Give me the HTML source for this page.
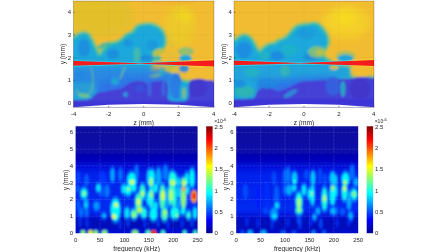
<!DOCTYPE html><html><head><meta charset="utf-8"><style>html,body{margin:0;padding:0;background:#fff;width:448px;height:252px;overflow:hidden}svg{display:block}text{font-family:"Liberation Sans",Arial,sans-serif;fill:#262626}</style></head><body>
<svg width="448" height="252" viewBox="0 0 448 252">
<defs>
<filter id="b0" x="-5%" y="-50%" width="110%" height="200%"><feGaussianBlur stdDeviation="0.35"/></filter><filter id="b1" x="-5%" y="-5%" width="110%" height="110%"><feGaussianBlur stdDeviation="1.3"/></filter>
<filter id="ero" x="-5%" y="-5%" width="110%" height="110%"><feMorphology operator="erode" radius="2.2"/></filter>
<filter id="b1s" x="-5%" y="-5%" width="110%" height="110%"><feGaussianBlur stdDeviation="1.0"/></filter>
<filter id="b2" x="-20%" y="-20%" width="140%" height="140%"><feGaussianBlur stdDeviation="3"/></filter>
<linearGradient id="jet" x1="0" y1="1" x2="0" y2="0"><stop offset="0" stop-color="#00008f"/><stop offset="0.125" stop-color="#0000ff"/><stop offset="0.375" stop-color="#00ffff"/><stop offset="0.625" stop-color="#ffff00"/><stop offset="0.875" stop-color="#ff0000"/><stop offset="1" stop-color="#800000"/></linearGradient>
<clipPath id="cTL"><rect x="73.4" y="1.0" width="140.6" height="106.2"/></clipPath>
<clipPath id="cTR"><rect x="234.0" y="1.0" width="140.0" height="106.2"/></clipPath>
<clipPath id="cBL"><rect x="75.6" y="126.3" width="122.0" height="106.89999999999999"/></clipPath>
<clipPath id="cBR"><rect x="236.2" y="126.3" width="122.0" height="106.89999999999999"/></clipPath>
</defs>
<g clip-path="url(#cTL)"><g filter="url(#b1)">
<rect x="69.4" y="-3.0" width="148.6" height="114.2" fill="#F2BC30" fill-opacity="1.0"/>
<g filter="url(#b2)">
<ellipse cx="100" cy="16" rx="34" ry="22" fill="#DEC02C" fill-opacity="0.8"/>
</g>
<ellipse cx="172" cy="40" rx="2.5" ry="9" fill="#B8C048" fill-opacity="0.55"/>
<g filter="url(#b2)">
<ellipse cx="180" cy="26" rx="15" ry="22" fill="#ECC82C" fill-opacity="1.0"/>
<ellipse cx="185" cy="16" rx="8" ry="6" fill="#F2D624" fill-opacity="1.0"/>
</g>
<ellipse cx="172" cy="2" rx="24" ry="3" fill="#EEB030" fill-opacity="0.6"/>
<path d="M70.00,37.50 C70.57,25.08 72.27,37.85 73.40,37.50 C74.53,37.15 75.58,36.07 76.80,35.40 C78.02,34.73 79.52,33.95 80.70,33.50 C81.88,33.05 82.83,32.70 83.90,32.70 C84.97,32.70 86.17,32.97 87.10,33.50 C88.03,34.03 88.72,34.83 89.50,35.90 C90.28,36.97 91.02,38.38 91.80,39.90 C92.58,41.42 93.33,43.15 94.20,45.00 C95.07,46.85 96.10,49.33 97.00,51.00 C97.90,52.67 98.77,54.92 99.60,55.00 C100.43,55.08 101.05,52.67 102.00,51.50 C102.95,50.33 104.22,49.12 105.30,48.00 C106.38,46.88 107.38,45.58 108.50,44.80 C109.62,44.02 110.50,43.77 112.00,43.30 C113.50,42.83 115.78,42.75 117.50,42.00 C119.22,41.25 120.97,39.87 122.30,38.80 C123.63,37.73 124.45,36.45 125.50,35.60 C126.55,34.75 127.55,34.22 128.60,33.70 C129.65,33.18 130.87,33.10 131.80,32.50 C132.73,31.90 133.40,31.03 134.20,30.10 C135.00,29.17 135.68,27.70 136.60,26.90 C137.52,26.10 138.52,25.68 139.70,25.30 C140.88,24.92 142.18,24.82 143.70,24.60 C145.22,24.38 147.17,23.93 148.80,24.00 C150.43,24.07 151.92,24.47 153.50,25.00 C155.08,25.53 156.97,26.40 158.30,27.20 C159.63,28.00 160.58,28.70 161.50,29.80 C162.42,30.90 163.22,32.33 163.80,33.80 C164.38,35.27 164.80,36.90 165.00,38.60 C165.20,40.30 165.33,42.43 165.00,44.00 C164.67,45.57 164.33,47.08 163.00,48.00 C161.67,48.92 158.67,48.67 157.00,49.50 C155.33,50.33 153.83,51.58 153.00,53.00 C152.17,54.42 152.00,56.67 152.00,58.00 C152.00,59.33 153.33,59.00 153.00,61.00 C152.67,63.00 150.50,67.67 150.00,70.00 C149.50,72.33 145.67,74.17 150.00,75.00 C154.33,75.83 171.33,74.17 176.00,75.00 C180.67,75.83 175.67,78.83 178.00,80.00 C180.33,81.17 184.00,81.00 190.00,82.00 C196.00,83.00 209.33,85.33 214.00,86.00 C218.67,86.67 217.33,81.67 218.00,86.00 C218.67,90.33 242.67,107.67 218.00,112.00 C193.33,116.33 94.67,124.42 70.00,112.00 C45.33,99.58 69.43,49.92 70.00,37.50 Z" fill="#B8C048" stroke="#B8C048" stroke-width="5.4" stroke-linejoin="round"/>
<path d="M70.00,37.50 C70.57,25.08 72.27,37.85 73.40,37.50 C74.53,37.15 75.58,36.07 76.80,35.40 C78.02,34.73 79.52,33.95 80.70,33.50 C81.88,33.05 82.83,32.70 83.90,32.70 C84.97,32.70 86.17,32.97 87.10,33.50 C88.03,34.03 88.72,34.83 89.50,35.90 C90.28,36.97 91.02,38.38 91.80,39.90 C92.58,41.42 93.33,43.15 94.20,45.00 C95.07,46.85 96.10,49.33 97.00,51.00 C97.90,52.67 98.77,54.92 99.60,55.00 C100.43,55.08 101.05,52.67 102.00,51.50 C102.95,50.33 104.22,49.12 105.30,48.00 C106.38,46.88 107.38,45.58 108.50,44.80 C109.62,44.02 110.50,43.77 112.00,43.30 C113.50,42.83 115.78,42.75 117.50,42.00 C119.22,41.25 120.97,39.87 122.30,38.80 C123.63,37.73 124.45,36.45 125.50,35.60 C126.55,34.75 127.55,34.22 128.60,33.70 C129.65,33.18 130.87,33.10 131.80,32.50 C132.73,31.90 133.40,31.03 134.20,30.10 C135.00,29.17 135.68,27.70 136.60,26.90 C137.52,26.10 138.52,25.68 139.70,25.30 C140.88,24.92 142.18,24.82 143.70,24.60 C145.22,24.38 147.17,23.93 148.80,24.00 C150.43,24.07 151.92,24.47 153.50,25.00 C155.08,25.53 156.97,26.40 158.30,27.20 C159.63,28.00 160.58,28.70 161.50,29.80 C162.42,30.90 163.22,32.33 163.80,33.80 C164.38,35.27 164.80,36.90 165.00,38.60 C165.20,40.30 165.33,42.43 165.00,44.00 C164.67,45.57 164.33,47.08 163.00,48.00 C161.67,48.92 158.67,48.67 157.00,49.50 C155.33,50.33 153.83,51.58 153.00,53.00 C152.17,54.42 152.00,56.67 152.00,58.00 C152.00,59.33 153.33,59.00 153.00,61.00 C152.67,63.00 150.50,67.67 150.00,70.00 C149.50,72.33 145.67,74.17 150.00,75.00 C154.33,75.83 171.33,74.17 176.00,75.00 C180.67,75.83 175.67,78.83 178.00,80.00 C180.33,81.17 184.00,81.00 190.00,82.00 C196.00,83.00 209.33,85.33 214.00,86.00 C218.67,86.67 217.33,81.67 218.00,86.00 C218.67,90.33 242.67,107.67 218.00,112.00 C193.33,116.33 94.67,124.42 70.00,112.00 C45.33,99.58 69.43,49.92 70.00,37.50 Z" fill="#84C078" stroke="#84C078" stroke-width="3" stroke-linejoin="round"/>
<path d="M70.00,37.50 C70.57,25.08 72.27,37.85 73.40,37.50 C74.53,37.15 75.58,36.07 76.80,35.40 C78.02,34.73 79.52,33.95 80.70,33.50 C81.88,33.05 82.83,32.70 83.90,32.70 C84.97,32.70 86.17,32.97 87.10,33.50 C88.03,34.03 88.72,34.83 89.50,35.90 C90.28,36.97 91.02,38.38 91.80,39.90 C92.58,41.42 93.33,43.15 94.20,45.00 C95.07,46.85 96.10,49.33 97.00,51.00 C97.90,52.67 98.77,54.92 99.60,55.00 C100.43,55.08 101.05,52.67 102.00,51.50 C102.95,50.33 104.22,49.12 105.30,48.00 C106.38,46.88 107.38,45.58 108.50,44.80 C109.62,44.02 110.50,43.77 112.00,43.30 C113.50,42.83 115.78,42.75 117.50,42.00 C119.22,41.25 120.97,39.87 122.30,38.80 C123.63,37.73 124.45,36.45 125.50,35.60 C126.55,34.75 127.55,34.22 128.60,33.70 C129.65,33.18 130.87,33.10 131.80,32.50 C132.73,31.90 133.40,31.03 134.20,30.10 C135.00,29.17 135.68,27.70 136.60,26.90 C137.52,26.10 138.52,25.68 139.70,25.30 C140.88,24.92 142.18,24.82 143.70,24.60 C145.22,24.38 147.17,23.93 148.80,24.00 C150.43,24.07 151.92,24.47 153.50,25.00 C155.08,25.53 156.97,26.40 158.30,27.20 C159.63,28.00 160.58,28.70 161.50,29.80 C162.42,30.90 163.22,32.33 163.80,33.80 C164.38,35.27 164.80,36.90 165.00,38.60 C165.20,40.30 165.33,42.43 165.00,44.00 C164.67,45.57 164.33,47.08 163.00,48.00 C161.67,48.92 158.67,48.67 157.00,49.50 C155.33,50.33 153.83,51.58 153.00,53.00 C152.17,54.42 152.00,56.67 152.00,58.00 C152.00,59.33 153.33,59.00 153.00,61.00 C152.67,63.00 150.50,67.67 150.00,70.00 C149.50,72.33 145.67,74.17 150.00,75.00 C154.33,75.83 171.33,74.17 176.00,75.00 C180.67,75.83 175.67,78.83 178.00,80.00 C180.33,81.17 184.00,81.00 190.00,82.00 C196.00,83.00 209.33,85.33 214.00,86.00 C218.67,86.67 217.33,81.67 218.00,86.00 C218.67,90.33 242.67,107.67 218.00,112.00 C193.33,116.33 94.67,124.42 70.00,112.00 C45.33,99.58 69.43,49.92 70.00,37.50 Z" fill="#22B6BE"/>
<path d="M70.00,37.50 C70.57,25.08 72.27,37.85 73.40,37.50 C74.53,37.15 75.58,36.07 76.80,35.40 C78.02,34.73 79.52,33.95 80.70,33.50 C81.88,33.05 82.83,32.70 83.90,32.70 C84.97,32.70 86.17,32.97 87.10,33.50 C88.03,34.03 88.72,34.83 89.50,35.90 C90.28,36.97 91.02,38.38 91.80,39.90 C92.58,41.42 93.33,43.15 94.20,45.00 C95.07,46.85 96.10,49.33 97.00,51.00 C97.90,52.67 98.77,54.92 99.60,55.00 C100.43,55.08 101.05,52.67 102.00,51.50 C102.95,50.33 104.22,49.12 105.30,48.00 C106.38,46.88 107.38,45.58 108.50,44.80 C109.62,44.02 110.50,43.77 112.00,43.30 C113.50,42.83 115.78,42.75 117.50,42.00 C119.22,41.25 120.97,39.87 122.30,38.80 C123.63,37.73 124.45,36.45 125.50,35.60 C126.55,34.75 127.55,34.22 128.60,33.70 C129.65,33.18 130.87,33.10 131.80,32.50 C132.73,31.90 133.40,31.03 134.20,30.10 C135.00,29.17 135.68,27.70 136.60,26.90 C137.52,26.10 138.52,25.68 139.70,25.30 C140.88,24.92 142.18,24.82 143.70,24.60 C145.22,24.38 147.17,23.93 148.80,24.00 C150.43,24.07 151.92,24.47 153.50,25.00 C155.08,25.53 156.97,26.40 158.30,27.20 C159.63,28.00 160.58,28.70 161.50,29.80 C162.42,30.90 163.22,32.33 163.80,33.80 C164.38,35.27 164.80,36.90 165.00,38.60 C165.20,40.30 165.33,42.43 165.00,44.00 C164.67,45.57 164.33,47.08 163.00,48.00 C161.67,48.92 158.67,48.67 157.00,49.50 C155.33,50.33 153.83,51.58 153.00,53.00 C152.17,54.42 152.00,56.67 152.00,58.00 C152.00,59.33 153.33,59.00 153.00,61.00 C152.67,63.00 150.50,67.67 150.00,70.00 C149.50,72.33 145.67,74.17 150.00,75.00 C154.33,75.83 171.33,74.17 176.00,75.00 C180.67,75.83 175.67,78.83 178.00,80.00 C180.33,81.17 184.00,81.00 190.00,82.00 C196.00,83.00 209.33,85.33 214.00,86.00 C218.67,86.67 217.33,81.67 218.00,86.00 C218.67,90.33 242.67,107.67 218.00,112.00 C193.33,116.33 94.67,124.42 70.00,112.00 C45.33,99.58 69.43,49.92 70.00,37.50 Z" fill="#1EA8DC" filter="url(#ero)"/>
<ellipse cx="84" cy="48" rx="6" ry="9" fill="#1F88E0" fill-opacity="0.75"/>
<ellipse cx="113" cy="54" rx="6" ry="5" fill="#1F88E0" fill-opacity="0.75"/>
<ellipse cx="128" cy="43" rx="5" ry="4" fill="#1F88E0" fill-opacity="0.6"/>
<ellipse cx="150" cy="40" rx="9" ry="8" fill="#1EA8DC" fill-opacity="0.9"/>
<ellipse cx="152" cy="45" rx="6" ry="5" fill="#1F88E0" fill-opacity="0.5"/>
<ellipse cx="137" cy="55" rx="3.5" ry="8" fill="#48BAA8" fill-opacity="0.9"/>
<ellipse cx="147" cy="58" rx="7" ry="3.5" fill="#1F88E0" fill-opacity="0.7"/>
<ellipse cx="104" cy="45.5" rx="7" ry="3" fill="#40B8A8" fill-opacity="0.8" transform="rotate(-20 104 45.5)"/>
<ellipse cx="159" cy="52" rx="6" ry="3" fill="#B8C048" fill-opacity="0.95" transform="rotate(-10 159 52)"/>
<ellipse cx="170" cy="55" rx="7" ry="5" fill="#E8BC38" fill-opacity="0.95"/>
<ellipse cx="186" cy="51.5" rx="8" ry="4.5" fill="#84C078" fill-opacity="0.85"/>
<ellipse cx="185.5" cy="58.5" rx="6.5" ry="3.6" fill="#1EA8DC" fill-opacity="1.0"/>
<ellipse cx="157" cy="58.5" rx="4.5" ry="3" fill="#22B6BE" fill-opacity="0.8"/>
<path d="M70,68 L150,68 L175,70 L176,82 L70,84 Z" fill="#2A88E2" filter="url(#b2)"/>
<path d="M190.00,64.00 C194.00,63.00 211.67,60.67 216.00,64.00 C220.33,67.33 217.17,81.33 216.00,84.00 C214.83,86.67 211.17,81.17 209.00,80.00 C206.83,78.83 205.17,77.92 203.00,77.00 C200.83,76.08 197.83,75.67 196.00,74.50 C194.17,73.33 193.00,71.75 192.00,70.00 C191.00,68.25 186.00,65.00 190.00,64.00 Z" fill="#F2BC30" />
<ellipse cx="171" cy="68.5" rx="6" ry="4" fill="#B8C048" fill-opacity="0.95"/>
<ellipse cx="175" cy="71" rx="5" ry="2.5" fill="#E2C040" fill-opacity="0.9"/>
<ellipse cx="184" cy="68.5" rx="5" ry="4" fill="#1F88E0" fill-opacity="0.9"/>
<ellipse cx="155" cy="76" rx="6" ry="2" fill="#84C078" fill-opacity="0.9" transform="rotate(-10 155 76)"/>
<ellipse cx="162" cy="72" rx="2" ry="5" fill="#22B6BE" fill-opacity="0.8"/>
<ellipse cx="80" cy="75" rx="5" ry="4" fill="#1F88E0" fill-opacity="0.6"/>
<path d="M96,82 C110,78 130,77 150,77 L168,78 L168,98 L96,98 Z" fill="#2E74E8" filter="url(#b2)"/>
<ellipse cx="115" cy="81" rx="4" ry="3.5" fill="#24A8D0" fill-opacity="0.8"/>
<path d="M70.00,101.00 C71.67,99.00 76.67,100.33 80.00,100.00 C83.33,99.67 87.17,100.17 90.00,99.00 C92.83,97.83 94.67,94.17 97.00,93.00 C99.33,91.83 101.50,92.50 104.00,92.00 C106.50,91.50 109.00,90.67 112.00,90.00 C115.00,89.33 119.33,89.00 122.00,88.00 C124.67,87.00 126.33,85.00 128.00,84.00 C129.67,83.00 130.33,82.50 132.00,82.00 C133.67,81.50 136.00,81.00 138.00,81.00 C140.00,81.00 142.33,81.50 144.00,82.00 C145.67,82.50 146.67,84.00 148.00,84.00 C149.33,84.00 150.00,82.50 152.00,82.00 C154.00,81.50 157.67,81.00 160.00,81.00 C162.33,81.00 164.67,80.83 166.00,82.00 C167.33,83.17 167.50,85.00 168.00,88.00 C168.50,91.00 165.83,98.00 169.00,100.00 C172.17,102.00 183.67,102.83 187.00,100.00 C190.33,97.17 187.50,86.50 189.00,83.00 C190.50,79.50 193.17,79.50 196.00,79.00 C198.83,78.50 202.67,79.17 206.00,80.00 C209.33,80.83 214.33,78.67 216.00,84.00 C217.67,89.33 240.33,107.33 216.00,112.00 C191.67,116.67 94.33,113.83 70.00,112.00 C45.67,110.17 68.33,103.00 70.00,101.00 Z" fill="#4440D6"/>
<ellipse cx="176" cy="86" rx="6" ry="13" fill="#2A7AE4" fill-opacity="0.95"/>
<ellipse cx="183.5" cy="91" rx="4.5" ry="9" fill="#1EA8DC" fill-opacity="0.95"/>
<ellipse cx="184" cy="93" rx="2" ry="6" fill="#84C078" fill-opacity="0.9"/>
<ellipse cx="198" cy="88" rx="9" ry="9" fill="#4238CC" fill-opacity="0.9"/>
<ellipse cx="85" cy="90" rx="11" ry="7" fill="#2A9CD4" fill-opacity="0.9"/>
<ellipse cx="84" cy="95.5" rx="6" ry="2.2" fill="#70C488" fill-opacity="0.8" transform="rotate(12 84 95.5)"/>
<path d="M91,67 C93,74 94,82 92,89 C90,95 84,97 80,95 C78,94 77,92 77,90" fill="none" stroke="#7CC480" stroke-width="1.4" stroke-opacity="0.6"/>
<path d="M125,67 C123,71 122,75 120,79" fill="none" stroke="#6CC090" stroke-width="1.6" stroke-opacity="0.9"/>
<ellipse cx="115" cy="82" rx="4" ry="3" fill="#22A6D8" fill-opacity="0.7"/>
<ellipse cx="149.5" cy="89" rx="1.8" ry="8" fill="#3C6CE0" fill-opacity="0.9"/>
<ellipse cx="163.5" cy="88" rx="1.8" ry="9" fill="#3C6CE0" fill-opacity="0.9"/>
<ellipse cx="125.5" cy="94.5" rx="2.5" ry="2.5" fill="#28A8D8" fill-opacity="0.8"/>
<ellipse cx="140" cy="88" rx="6" ry="4" fill="#3458DC" fill-opacity="0.6"/>
<rect x="70" y="101.5" width="148" height="4.5" fill="#3C34D6" fill-opacity="1.0"/>
</g>
<defs><linearGradient id="haloTL" gradientUnits="userSpaceOnUse" x1="73" y1="0" x2="214" y2="0"><stop offset="0" stop-color="#38D8F4"/><stop offset="0.72" stop-color="#38D8F4"/><stop offset="0.8" stop-color="#F6E040"/><stop offset="1" stop-color="#F6E040"/></linearGradient><linearGradient id="haloTR" gradientUnits="userSpaceOnUse" x1="234" y1="0" x2="374" y2="0"><stop offset="0" stop-color="#38D8F4"/><stop offset="0.8" stop-color="#38D8F4"/><stop offset="0.86" stop-color="#F6E040"/><stop offset="1" stop-color="#F6E040"/></linearGradient></defs>
<path d="M70,60.8 L140,63.3 L214.5,60.2 L214.5,66.4 L140,63.7 L70,65.9 Z" fill="none" stroke="url(#haloTL)" stroke-width="1.8" stroke-opacity="0.8" filter="url(#b0)"/>
<path d="M70,60.8 L140,63.2 L214.5,60.2 L214.5,66.4 L140,63.8 L70,65.9 Z" fill="#F41C1C" filter="url(#b0)"/>
<path d="M70,107.4 L73.4,107.3 Q143.7,100.6 214,107.3 L218,107.4 L218,110 L70,110 Z" fill="#fff"/>
</g>
<g clip-path="url(#cTR)"><g filter="url(#b1)">
<rect x="230.0" y="-3.0" width="148.0" height="114.2" fill="#F2BC30" fill-opacity="1.0"/>
<g filter="url(#b2)">
<ellipse cx="346" cy="22" rx="24" ry="17" fill="#F4CE2A" fill-opacity="1.0"/>
<ellipse cx="345" cy="18" rx="11" ry="8" fill="#F6DA22" fill-opacity="1.0"/>
</g>
<path d="M230.00,41.00 C230.67,29.15 232.62,41.45 234.00,40.90 C235.38,40.35 236.78,38.63 238.30,37.70 C239.82,36.77 241.63,35.63 243.10,35.30 C244.57,34.97 245.78,35.17 247.10,35.70 C248.42,36.23 249.82,37.23 251.00,38.50 C252.18,39.77 253.20,41.63 254.20,43.30 C255.20,44.97 256.10,47.13 257.00,48.50 C257.90,49.87 258.68,51.42 259.60,51.50 C260.52,51.58 261.43,49.92 262.50,49.00 C263.57,48.08 264.75,46.78 266.00,46.00 C267.25,45.22 268.62,44.75 270.00,44.30 C271.38,43.85 272.78,43.95 274.30,43.30 C275.82,42.65 277.50,41.18 279.10,40.40 C280.70,39.62 282.32,39.53 283.90,38.60 C285.48,37.67 287.02,36.35 288.60,34.80 C290.18,33.25 291.93,30.75 293.40,29.30 C294.87,27.85 296.08,26.82 297.40,26.10 C298.72,25.38 299.58,25.30 301.30,25.00 C303.02,24.70 306.17,24.50 307.70,24.30 C309.23,24.10 309.32,23.97 310.50,23.80 C311.68,23.63 313.30,23.07 314.80,23.30 C316.30,23.53 318.18,24.33 319.50,25.20 C320.82,26.07 321.63,27.17 322.70,28.50 C323.77,29.83 325.02,31.53 325.90,33.20 C326.78,34.87 327.65,36.70 328.00,38.50 C328.35,40.30 328.33,42.42 328.00,44.00 C327.67,45.58 326.83,46.67 326.00,48.00 C325.17,49.33 323.33,50.50 323.00,52.00 C322.67,53.50 322.83,55.50 324.00,57.00 C325.17,58.50 328.17,59.50 330.00,61.00 C331.83,62.50 332.00,64.83 335.00,66.00 C338.00,67.17 345.17,66.00 348.00,68.00 C350.83,70.00 347.00,76.00 352.00,78.00 C357.00,80.00 373.67,74.33 378.00,80.00 C382.33,85.67 402.67,106.67 378.00,112.00 C353.33,117.33 254.67,123.83 230.00,112.00 C205.33,100.17 229.33,52.85 230.00,41.00 Z" fill="#B8C048" stroke="#B8C048" stroke-width="5.4" stroke-linejoin="round"/>
<path d="M230.00,41.00 C230.67,29.15 232.62,41.45 234.00,40.90 C235.38,40.35 236.78,38.63 238.30,37.70 C239.82,36.77 241.63,35.63 243.10,35.30 C244.57,34.97 245.78,35.17 247.10,35.70 C248.42,36.23 249.82,37.23 251.00,38.50 C252.18,39.77 253.20,41.63 254.20,43.30 C255.20,44.97 256.10,47.13 257.00,48.50 C257.90,49.87 258.68,51.42 259.60,51.50 C260.52,51.58 261.43,49.92 262.50,49.00 C263.57,48.08 264.75,46.78 266.00,46.00 C267.25,45.22 268.62,44.75 270.00,44.30 C271.38,43.85 272.78,43.95 274.30,43.30 C275.82,42.65 277.50,41.18 279.10,40.40 C280.70,39.62 282.32,39.53 283.90,38.60 C285.48,37.67 287.02,36.35 288.60,34.80 C290.18,33.25 291.93,30.75 293.40,29.30 C294.87,27.85 296.08,26.82 297.40,26.10 C298.72,25.38 299.58,25.30 301.30,25.00 C303.02,24.70 306.17,24.50 307.70,24.30 C309.23,24.10 309.32,23.97 310.50,23.80 C311.68,23.63 313.30,23.07 314.80,23.30 C316.30,23.53 318.18,24.33 319.50,25.20 C320.82,26.07 321.63,27.17 322.70,28.50 C323.77,29.83 325.02,31.53 325.90,33.20 C326.78,34.87 327.65,36.70 328.00,38.50 C328.35,40.30 328.33,42.42 328.00,44.00 C327.67,45.58 326.83,46.67 326.00,48.00 C325.17,49.33 323.33,50.50 323.00,52.00 C322.67,53.50 322.83,55.50 324.00,57.00 C325.17,58.50 328.17,59.50 330.00,61.00 C331.83,62.50 332.00,64.83 335.00,66.00 C338.00,67.17 345.17,66.00 348.00,68.00 C350.83,70.00 347.00,76.00 352.00,78.00 C357.00,80.00 373.67,74.33 378.00,80.00 C382.33,85.67 402.67,106.67 378.00,112.00 C353.33,117.33 254.67,123.83 230.00,112.00 C205.33,100.17 229.33,52.85 230.00,41.00 Z" fill="#84C078" stroke="#84C078" stroke-width="3" stroke-linejoin="round"/>
<path d="M230.00,41.00 C230.67,29.15 232.62,41.45 234.00,40.90 C235.38,40.35 236.78,38.63 238.30,37.70 C239.82,36.77 241.63,35.63 243.10,35.30 C244.57,34.97 245.78,35.17 247.10,35.70 C248.42,36.23 249.82,37.23 251.00,38.50 C252.18,39.77 253.20,41.63 254.20,43.30 C255.20,44.97 256.10,47.13 257.00,48.50 C257.90,49.87 258.68,51.42 259.60,51.50 C260.52,51.58 261.43,49.92 262.50,49.00 C263.57,48.08 264.75,46.78 266.00,46.00 C267.25,45.22 268.62,44.75 270.00,44.30 C271.38,43.85 272.78,43.95 274.30,43.30 C275.82,42.65 277.50,41.18 279.10,40.40 C280.70,39.62 282.32,39.53 283.90,38.60 C285.48,37.67 287.02,36.35 288.60,34.80 C290.18,33.25 291.93,30.75 293.40,29.30 C294.87,27.85 296.08,26.82 297.40,26.10 C298.72,25.38 299.58,25.30 301.30,25.00 C303.02,24.70 306.17,24.50 307.70,24.30 C309.23,24.10 309.32,23.97 310.50,23.80 C311.68,23.63 313.30,23.07 314.80,23.30 C316.30,23.53 318.18,24.33 319.50,25.20 C320.82,26.07 321.63,27.17 322.70,28.50 C323.77,29.83 325.02,31.53 325.90,33.20 C326.78,34.87 327.65,36.70 328.00,38.50 C328.35,40.30 328.33,42.42 328.00,44.00 C327.67,45.58 326.83,46.67 326.00,48.00 C325.17,49.33 323.33,50.50 323.00,52.00 C322.67,53.50 322.83,55.50 324.00,57.00 C325.17,58.50 328.17,59.50 330.00,61.00 C331.83,62.50 332.00,64.83 335.00,66.00 C338.00,67.17 345.17,66.00 348.00,68.00 C350.83,70.00 347.00,76.00 352.00,78.00 C357.00,80.00 373.67,74.33 378.00,80.00 C382.33,85.67 402.67,106.67 378.00,112.00 C353.33,117.33 254.67,123.83 230.00,112.00 C205.33,100.17 229.33,52.85 230.00,41.00 Z" fill="#22B6BE"/>
<path d="M230.00,41.00 C230.67,29.15 232.62,41.45 234.00,40.90 C235.38,40.35 236.78,38.63 238.30,37.70 C239.82,36.77 241.63,35.63 243.10,35.30 C244.57,34.97 245.78,35.17 247.10,35.70 C248.42,36.23 249.82,37.23 251.00,38.50 C252.18,39.77 253.20,41.63 254.20,43.30 C255.20,44.97 256.10,47.13 257.00,48.50 C257.90,49.87 258.68,51.42 259.60,51.50 C260.52,51.58 261.43,49.92 262.50,49.00 C263.57,48.08 264.75,46.78 266.00,46.00 C267.25,45.22 268.62,44.75 270.00,44.30 C271.38,43.85 272.78,43.95 274.30,43.30 C275.82,42.65 277.50,41.18 279.10,40.40 C280.70,39.62 282.32,39.53 283.90,38.60 C285.48,37.67 287.02,36.35 288.60,34.80 C290.18,33.25 291.93,30.75 293.40,29.30 C294.87,27.85 296.08,26.82 297.40,26.10 C298.72,25.38 299.58,25.30 301.30,25.00 C303.02,24.70 306.17,24.50 307.70,24.30 C309.23,24.10 309.32,23.97 310.50,23.80 C311.68,23.63 313.30,23.07 314.80,23.30 C316.30,23.53 318.18,24.33 319.50,25.20 C320.82,26.07 321.63,27.17 322.70,28.50 C323.77,29.83 325.02,31.53 325.90,33.20 C326.78,34.87 327.65,36.70 328.00,38.50 C328.35,40.30 328.33,42.42 328.00,44.00 C327.67,45.58 326.83,46.67 326.00,48.00 C325.17,49.33 323.33,50.50 323.00,52.00 C322.67,53.50 322.83,55.50 324.00,57.00 C325.17,58.50 328.17,59.50 330.00,61.00 C331.83,62.50 332.00,64.83 335.00,66.00 C338.00,67.17 345.17,66.00 348.00,68.00 C350.83,70.00 347.00,76.00 352.00,78.00 C357.00,80.00 373.67,74.33 378.00,80.00 C382.33,85.67 402.67,106.67 378.00,112.00 C353.33,117.33 254.67,123.83 230.00,112.00 C205.33,100.17 229.33,52.85 230.00,41.00 Z" fill="#1EA8DC" filter="url(#ero)"/>
<ellipse cx="244" cy="50" rx="8" ry="8" fill="#1F88E0" fill-opacity="0.85"/>
<ellipse cx="265" cy="56" rx="6" ry="4" fill="#22B6BE" fill-opacity="0.7"/>
<ellipse cx="277" cy="56" rx="7" ry="5" fill="#1F88E0" fill-opacity="0.85"/>
<ellipse cx="311" cy="57" rx="8" ry="4" fill="#1F88E0" fill-opacity="0.7"/>
<ellipse cx="317" cy="52" rx="9" ry="6" fill="#84C078" fill-opacity="0.9"/>
<ellipse cx="320" cy="52.5" rx="5" ry="3" fill="#B8C048" fill-opacity="0.9"/>
<ellipse cx="306" cy="33" rx="10" ry="6" fill="#2098DC" fill-opacity="0.6"/>
<ellipse cx="289" cy="50" rx="8" ry="6" fill="#22B6BE" fill-opacity="0.6"/>
<ellipse cx="345.5" cy="56" rx="10" ry="5.5" fill="#84C078" fill-opacity="0.6"/>
<ellipse cx="345.5" cy="58.5" rx="8" ry="4" fill="#1EA8DC" fill-opacity="1.0"/>
<path d="M230,67 L350,67 L350,80 L230,82 Z" fill="#22A2DC" filter="url(#b2)"/>
<ellipse cx="252" cy="72" rx="8" ry="5" fill="#22B6BE" fill-opacity="0.7"/>
<ellipse cx="285" cy="71" rx="5" ry="6" fill="#38B8B0" fill-opacity="0.8"/>
<ellipse cx="362" cy="70.5" rx="11" ry="6" fill="#F2BC30" fill-opacity="1.0"/>
<ellipse cx="334" cy="67.5" rx="4.5" ry="2.5" fill="#D8C048" fill-opacity="0.9"/>
<path d="M258,80 L285,80 L300,78 L330,76 L330,96 L258,96 Z" fill="#2E74E8" filter="url(#b2)"/>
<path d="M230.00,104.00 C231.00,102.00 233.50,100.83 236.00,100.00 C238.50,99.17 242.00,99.33 245.00,99.00 C248.00,98.67 252.00,99.17 254.00,98.00 C256.00,96.83 255.67,93.67 257.00,92.00 C258.33,90.33 259.83,88.83 262.00,88.00 C264.17,87.17 267.33,86.50 270.00,87.00 C272.67,87.50 274.67,91.00 278.00,91.00 C281.33,91.00 286.33,88.50 290.00,87.00 C293.67,85.50 296.67,83.00 300.00,82.00 C303.33,81.00 306.67,81.25 310.00,81.00 C313.33,80.75 317.33,80.67 320.00,80.50 C322.67,80.33 323.50,80.25 326.00,80.00 C328.50,79.75 331.33,79.17 335.00,79.00 C338.67,78.83 343.83,79.33 348.00,79.00 C352.17,78.67 356.00,77.17 360.00,77.00 C364.00,76.83 369.00,77.50 372.00,78.00 C375.00,78.50 377.00,74.33 378.00,80.00 C379.00,85.67 402.67,106.67 378.00,112.00 C353.33,117.33 254.67,113.33 230.00,112.00 C205.33,110.67 229.00,106.00 230.00,104.00 Z" fill="#4440D6"/>
<ellipse cx="245" cy="91.5" rx="10" ry="5.5" fill="#30B4B0" fill-opacity="0.9"/>
<ellipse cx="240" cy="84" rx="6" ry="4" fill="#1F88E0" fill-opacity="0.7"/>
<ellipse cx="268" cy="84" rx="10" ry="5" fill="#1F88E0" fill-opacity="0.8"/>
<ellipse cx="290.5" cy="93.5" rx="8" ry="2.5" fill="#2A9AD8" fill-opacity="0.8" transform="rotate(-30 290.5 93.5)"/>
<ellipse cx="333" cy="86" rx="8" ry="10" fill="#3266E0" fill-opacity="0.8"/>
<ellipse cx="343" cy="89" rx="2.5" ry="8" fill="#22B6BE" fill-opacity="0.85"/>
<ellipse cx="360" cy="89" rx="10" ry="10" fill="#4434C8" fill-opacity="0.9"/>
<rect x="230" y="99" width="148" height="7" fill="#3C34D6" fill-opacity="1.0"/>
</g>
<path d="M230,60.4 L300,63.1 L374.5,59.9 L374.5,65.9 L300,63.5 L230,65.4 Z" fill="none" stroke="url(#haloTR)" stroke-width="1.8" stroke-opacity="0.8" filter="url(#b0)"/>
<path d="M230,60.4 L300,63.0 L374.5,59.9 L374.5,65.9 L300,63.6 L230,65.4 Z" fill="#F41C1C" filter="url(#b0)"/>
<path d="M230,107.4 L234,107.3 Q304,100.6 374,107.3 L378,107.4 L378,110 L230,110 Z" fill="#fff"/>
</g>
<defs>
<linearGradient id="gBL" gradientUnits="userSpaceOnUse" x1="0" y1="126" x2="0" y2="234"><stop offset="0.0000" stop-color="#0808A0"/><stop offset="0.2222" stop-color="#0808A8"/><stop offset="0.3148" stop-color="#0404BC"/><stop offset="0.3796" stop-color="#0010DC"/><stop offset="0.4537" stop-color="#0024EC"/><stop offset="0.7778" stop-color="#002CF0"/><stop offset="0.8333" stop-color="#0018DC"/><stop offset="0.8704" stop-color="#0408BC"/><stop offset="0.9352" stop-color="#0408B8"/><stop offset="0.9630" stop-color="#0010D0"/><stop offset="1.0000" stop-color="#0010D0"/></linearGradient>
<linearGradient id="gBR" gradientUnits="userSpaceOnUse" x1="0" y1="126" x2="0" y2="234"><stop offset="0.0000" stop-color="#0808A0"/><stop offset="0.2222" stop-color="#0808A8"/><stop offset="0.3148" stop-color="#0404BC"/><stop offset="0.3796" stop-color="#0010DC"/><stop offset="0.4537" stop-color="#0022EC"/><stop offset="0.7778" stop-color="#002AF0"/><stop offset="0.8333" stop-color="#0014D8"/><stop offset="0.8704" stop-color="#0408BC"/><stop offset="0.9352" stop-color="#0408B8"/><stop offset="0.9630" stop-color="#000CC8"/><stop offset="1.0000" stop-color="#000CC8"/></linearGradient>
</defs>
<g clip-path="url(#cBL)"><g filter="url(#b1s)">
<rect x="71.6" y="122.3" width="130.0" height="114.89999999999999" fill="url(#gBL)" fill-opacity="1.0"/>
<ellipse cx="112.5" cy="175" rx="2.8" ry="10.0" fill="#004cff" fill-opacity="0.7"/>
<ellipse cx="120.5" cy="175" rx="2.8" ry="9.0" fill="#004cff" fill-opacity="0.7"/>
<ellipse cx="132" cy="180" rx="5.5" ry="10.0" fill="#0089ff" fill-opacity="0.7"/>
<ellipse cx="136.5" cy="173" rx="2.6" ry="10.0" fill="#004cff" fill-opacity="0.7"/>
<ellipse cx="149" cy="178" rx="2.8" ry="11.0" fill="#0060ff" fill-opacity="0.7"/>
<ellipse cx="152" cy="178" rx="3.5" ry="11.0" fill="#0089ff" fill-opacity="0.7"/>
<ellipse cx="158.5" cy="177" rx="3.5" ry="12.0" fill="#004cff" fill-opacity="0.7"/>
<ellipse cx="165.5" cy="173" rx="3.5" ry="10.0" fill="#004cff" fill-opacity="0.7"/>
<ellipse cx="172" cy="180" rx="4.0" ry="11.0" fill="#009eff" fill-opacity="0.7"/>
<ellipse cx="174.5" cy="180" rx="3.0" ry="9.0" fill="#009eff" fill-opacity="0.7"/>
<ellipse cx="178.5" cy="182" rx="2.8" ry="7.0" fill="#006bff" fill-opacity="0.7"/>
<ellipse cx="184" cy="182" rx="3.5" ry="7.0" fill="#00b2ff" fill-opacity="0.7"/>
<ellipse cx="187" cy="179" rx="2.5" ry="9.0" fill="#0089ff" fill-opacity="0.7"/>
<ellipse cx="192" cy="178" rx="3.2" ry="12.0" fill="#0089ff" fill-opacity="0.7"/>
<ellipse cx="84" cy="193.5" rx="4.0" ry="7.5" fill="#009eff" fill-opacity="0.7"/>
<ellipse cx="86" cy="204" rx="3.0" ry="9.0" fill="#004cff" fill-opacity="0.7"/>
<ellipse cx="86" cy="205" rx="2.2" ry="5.0" fill="#006bff" fill-opacity="0.7"/>
<ellipse cx="98.5" cy="188" rx="3.0" ry="6.5" fill="#0075ff" fill-opacity="0.7"/>
<ellipse cx="96.5" cy="206" rx="3.5" ry="7.0" fill="#004cff" fill-opacity="0.7"/>
<ellipse cx="107" cy="191" rx="3.0" ry="9.0" fill="#004cff" fill-opacity="0.7"/>
<ellipse cx="123.5" cy="189" rx="2.8" ry="7.0" fill="#0075ff" fill-opacity="0.7"/>
<ellipse cx="115.5" cy="210" rx="5.5" ry="14.0" fill="#0089ff" fill-opacity="0.7"/>
<ellipse cx="104" cy="215.5" rx="3.0" ry="5.5" fill="#004cff" fill-opacity="0.7"/>
<ellipse cx="128" cy="190" rx="4.0" ry="8.0" fill="#0089ff" fill-opacity="0.7"/>
<ellipse cx="133.5" cy="188" rx="3.5" ry="6.0" fill="#0089ff" fill-opacity="0.7"/>
<ellipse cx="138.5" cy="202" rx="4.0" ry="11.0" fill="#00b2ff" fill-opacity="0.7"/>
<ellipse cx="142.5" cy="192" rx="3.5" ry="10.0" fill="#00b2ff" fill-opacity="0.7"/>
<ellipse cx="148.5" cy="198" rx="2.8" ry="10.0" fill="#0075ff" fill-opacity="0.7"/>
<ellipse cx="151.5" cy="197" rx="3.0" ry="15.0" fill="#009eff" fill-opacity="0.7"/>
<ellipse cx="155.5" cy="188" rx="3.0" ry="7.0" fill="#0089ff" fill-opacity="0.7"/>
<ellipse cx="155.5" cy="206" rx="3.0" ry="7.0" fill="#0075ff" fill-opacity="0.7"/>
<ellipse cx="162.5" cy="197" rx="3.8" ry="15.0" fill="#00b2ff" fill-opacity="0.7"/>
<ellipse cx="167" cy="198" rx="3.0" ry="14.0" fill="#004cff" fill-opacity="0.7"/>
<ellipse cx="171" cy="195" rx="3.5" ry="13.0" fill="#00b2ff" fill-opacity="0.7"/>
<ellipse cx="174" cy="197" rx="2.2" ry="13.0" fill="#0089ff" fill-opacity="0.7"/>
<ellipse cx="174.5" cy="197" rx="2.5" ry="15.0" fill="#00b2ff" fill-opacity="0.7"/>
<ellipse cx="178.5" cy="192" rx="3.2" ry="9.0" fill="#0060ff" fill-opacity="0.7"/>
<ellipse cx="178.5" cy="204" rx="3.0" ry="8.0" fill="#004cff" fill-opacity="0.7"/>
<ellipse cx="183.5" cy="197" rx="3.5" ry="15.0" fill="#00b2ff" fill-opacity="0.7"/>
<ellipse cx="187.5" cy="190" rx="2.5" ry="7.0" fill="#0075ff" fill-opacity="0.7"/>
<ellipse cx="81" cy="212" rx="3.0" ry="7.0" fill="#004cff" fill-opacity="0.7"/>
<ellipse cx="86.5" cy="212" rx="2.6" ry="7.0" fill="#004cff" fill-opacity="0.7"/>
<ellipse cx="127" cy="213" rx="3.0" ry="8.0" fill="#0075ff" fill-opacity="0.7"/>
<ellipse cx="134" cy="214" rx="4.0" ry="7.0" fill="#00b2ff" fill-opacity="0.7"/>
<ellipse cx="139.5" cy="210" rx="4.0" ry="6.0" fill="#00b2ff" fill-opacity="0.7"/>
<ellipse cx="144" cy="213" rx="3.5" ry="7.5" fill="#009eff" fill-opacity="0.7"/>
<ellipse cx="153.5" cy="214" rx="4.5" ry="9.0" fill="#0089ff" fill-opacity="0.7"/>
<ellipse cx="164.5" cy="214" rx="4.0" ry="9.0" fill="#00b2ff" fill-opacity="0.7"/>
<ellipse cx="173" cy="213" rx="3.2" ry="8.0" fill="#0089ff" fill-opacity="0.7"/>
<ellipse cx="176" cy="213" rx="4.0" ry="8.0" fill="#009eff" fill-opacity="0.7"/>
<ellipse cx="183" cy="211" rx="3.0" ry="6.0" fill="#0089ff" fill-opacity="0.7"/>
<ellipse cx="188.5" cy="215" rx="3.0" ry="6.0" fill="#00b2ff" fill-opacity="0.7"/>
<ellipse cx="195" cy="213" rx="2.6" ry="8.0" fill="#0089ff" fill-opacity="0.7"/>
<ellipse cx="78.5" cy="177" rx="1.8" ry="6" fill="#004cff" fill-opacity="0.95"/>
<ellipse cx="86.5" cy="180" rx="2" ry="6" fill="#0060ff" fill-opacity="0.95"/>
<ellipse cx="103" cy="178" rx="3" ry="7" fill="#0038ff" fill-opacity="0.95"/>
<ellipse cx="112.5" cy="175" rx="1.8" ry="7" fill="#00b2ff" fill-opacity="0.95"/>
<ellipse cx="120.5" cy="175" rx="1.8" ry="6" fill="#0075ff" fill-opacity="0.95"/>
<ellipse cx="132" cy="180" rx="4.5" ry="7" fill="#05fff9" fill-opacity="0.95"/>
<ellipse cx="136.5" cy="173" rx="1.6" ry="7" fill="#007fff" fill-opacity="0.95"/>
<ellipse cx="149" cy="178" rx="1.8" ry="8" fill="#00dbff" fill-opacity="0.95"/>
<ellipse cx="152" cy="178" rx="2.5" ry="8" fill="#05fff9" fill-opacity="0.95"/>
<ellipse cx="158.5" cy="177" rx="2.5" ry="9" fill="#00b2ff" fill-opacity="0.95"/>
<ellipse cx="165.5" cy="173" rx="2.5" ry="7" fill="#007fff" fill-opacity="0.95"/>
<ellipse cx="172" cy="180" rx="3" ry="8" fill="#19ffe5" fill-opacity="0.95"/>
<ellipse cx="174.5" cy="180" rx="2" ry="6" fill="#19ffe5" fill-opacity="0.95"/>
<ellipse cx="178.5" cy="182" rx="1.8" ry="4" fill="#00e5ff" fill-opacity="0.95"/>
<ellipse cx="184" cy="182" rx="2.5" ry="4" fill="#7fff7f" fill-opacity="0.95"/>
<ellipse cx="187" cy="179" rx="1.5" ry="6" fill="#05fff9" fill-opacity="0.95"/>
<ellipse cx="192" cy="178" rx="2.2" ry="9" fill="#05fff9" fill-opacity="0.95"/>
<ellipse cx="77.5" cy="189" rx="1.6" ry="4" fill="#0060ff" fill-opacity="0.95"/>
<ellipse cx="84" cy="193.5" rx="3" ry="4.5" fill="#19ffe5" fill-opacity="0.95"/>
<ellipse cx="86" cy="204" rx="2" ry="6" fill="#00b2ff" fill-opacity="0.95"/>
<ellipse cx="86" cy="205" rx="1.2" ry="2" fill="#00e5ff" fill-opacity="0.95"/>
<ellipse cx="78.5" cy="205" rx="1.6" ry="5" fill="#0060ff" fill-opacity="0.95"/>
<ellipse cx="98.5" cy="188" rx="2" ry="3.5" fill="#00efff" fill-opacity="0.95"/>
<ellipse cx="96.5" cy="206" rx="2.5" ry="4" fill="#009eff" fill-opacity="0.95"/>
<ellipse cx="102" cy="191" rx="2" ry="6" fill="#0060ff" fill-opacity="0.95"/>
<ellipse cx="107" cy="191" rx="2" ry="6" fill="#007fff" fill-opacity="0.95"/>
<ellipse cx="123.5" cy="189" rx="1.8" ry="4" fill="#00efff" fill-opacity="0.95"/>
<ellipse cx="115.5" cy="210" rx="4.5" ry="11" fill="#05fff9" fill-opacity="0.95"/>
<ellipse cx="104" cy="215.5" rx="2" ry="2.5" fill="#00b2ff" fill-opacity="0.95"/>
<ellipse cx="128" cy="190" rx="3" ry="5" fill="#05fff9" fill-opacity="0.95"/>
<ellipse cx="133.5" cy="188" rx="2.5" ry="3" fill="#05fff9" fill-opacity="0.95"/>
<ellipse cx="138.5" cy="202" rx="3" ry="8" fill="#4cffb2" fill-opacity="0.95"/>
<ellipse cx="142.5" cy="192" rx="2.5" ry="7" fill="#2dffd1" fill-opacity="0.95"/>
<ellipse cx="148.5" cy="198" rx="1.8" ry="7" fill="#00efff" fill-opacity="0.95"/>
<ellipse cx="151.5" cy="197" rx="2" ry="12" fill="#19ffe5" fill-opacity="0.95"/>
<ellipse cx="155.5" cy="188" rx="2" ry="4" fill="#05fff9" fill-opacity="0.95"/>
<ellipse cx="155.5" cy="206" rx="2" ry="4" fill="#00efff" fill-opacity="0.95"/>
<ellipse cx="162.5" cy="197" rx="2.8" ry="12" fill="#4cffb2" fill-opacity="0.95"/>
<ellipse cx="167" cy="198" rx="2" ry="11" fill="#00b2ff" fill-opacity="0.95"/>
<ellipse cx="171" cy="195" rx="2.5" ry="10" fill="#4cffb2" fill-opacity="0.95"/>
<ellipse cx="174" cy="197" rx="1.2" ry="10" fill="#05fff9" fill-opacity="0.95"/>
<ellipse cx="174.5" cy="197" rx="1.5" ry="12" fill="#2dffd1" fill-opacity="0.95"/>
<ellipse cx="178.5" cy="192" rx="2.2" ry="6" fill="#00dbff" fill-opacity="0.95"/>
<ellipse cx="178.5" cy="204" rx="2" ry="5" fill="#009eff" fill-opacity="0.95"/>
<ellipse cx="183.5" cy="197" rx="2.5" ry="12" fill="#93ff6b" fill-opacity="0.95"/>
<ellipse cx="187.5" cy="190" rx="1.5" ry="4" fill="#00efff" fill-opacity="0.95"/>
<ellipse cx="187.5" cy="199" rx="1.5" ry="5" fill="#004cff" fill-opacity="0.95"/>
<ellipse cx="81" cy="212" rx="2" ry="4" fill="#0075ff" fill-opacity="0.95"/>
<ellipse cx="86.5" cy="212" rx="1.6" ry="4" fill="#0075ff" fill-opacity="0.95"/>
<ellipse cx="127" cy="213" rx="2" ry="5" fill="#00efff" fill-opacity="0.95"/>
<ellipse cx="134" cy="214" rx="3" ry="4" fill="#4cffb2" fill-opacity="0.95"/>
<ellipse cx="139.5" cy="210" rx="3" ry="3" fill="#b2ff4c" fill-opacity="0.95"/>
<ellipse cx="144" cy="213" rx="2.5" ry="4.5" fill="#19ffe5" fill-opacity="0.95"/>
<ellipse cx="153.5" cy="214" rx="3.5" ry="6" fill="#05fff9" fill-opacity="0.95"/>
<ellipse cx="164.5" cy="214" rx="3" ry="6" fill="#4cffb2" fill-opacity="0.95"/>
<ellipse cx="173" cy="213" rx="2.2" ry="5" fill="#05fff9" fill-opacity="0.95"/>
<ellipse cx="176" cy="213" rx="3" ry="5" fill="#19ffe5" fill-opacity="0.95"/>
<ellipse cx="183" cy="211" rx="2" ry="3" fill="#05fff9" fill-opacity="0.95"/>
<ellipse cx="188.5" cy="215" rx="2" ry="3" fill="#2dffd1" fill-opacity="0.95"/>
<ellipse cx="195" cy="213" rx="1.6" ry="5" fill="#05fff9" fill-opacity="0.95"/>
<ellipse cx="83" cy="232.7" rx="2.4" ry="2.6" fill="#89ff75" fill-opacity="0.95"/>
<ellipse cx="90.5" cy="232.7" rx="2.4" ry="2.6" fill="#efff0f" fill-opacity="0.95"/>
<ellipse cx="95.6" cy="232.7" rx="2.4" ry="2.6" fill="#89ff75" fill-opacity="0.95"/>
<ellipse cx="104.5" cy="232.7" rx="2.9" ry="2.6" fill="#89ff75" fill-opacity="0.95"/>
<ellipse cx="135" cy="232.7" rx="3.4" ry="2.6" fill="#89ff75" fill-opacity="0.95"/>
<ellipse cx="148" cy="232.7" rx="2.4" ry="2.6" fill="#42ffbc" fill-opacity="0.95"/>
<ellipse cx="153.6" cy="232.7" rx="2.9" ry="2.8000000000000003" fill="#ff6000" fill-opacity="0.95"/>
<ellipse cx="163" cy="232.7" rx="2.2" ry="2.6" fill="#42ffbc" fill-opacity="0.95"/>
<ellipse cx="184.7" cy="232.7" rx="2.0" ry="2.6" fill="#42ffbc" fill-opacity="0.95"/>
<ellipse cx="195.2" cy="232.7" rx="2.0" ry="2.6" fill="#42ffbc" fill-opacity="0.95"/>
<ellipse cx="80" cy="222" rx="1.5" ry="5" fill="#0038ff" fill-opacity="0.8"/>
<ellipse cx="87" cy="223" rx="1.5" ry="5" fill="#0038ff" fill-opacity="0.8"/>
<ellipse cx="120" cy="224" rx="1.5" ry="5" fill="#0038ff" fill-opacity="0.8"/>
<ellipse cx="128" cy="222" rx="1.5" ry="5" fill="#004cff" fill-opacity="0.8"/>
<ellipse cx="145" cy="223" rx="1.5" ry="5" fill="#0038ff" fill-opacity="0.8"/>
<ellipse cx="158" cy="222" rx="1.5" ry="5" fill="#004cff" fill-opacity="0.8"/>
<ellipse cx="168" cy="224" rx="1.5" ry="5" fill="#0038ff" fill-opacity="0.8"/>
<ellipse cx="182" cy="223" rx="1.5" ry="5" fill="#0038ff" fill-opacity="0.8"/>
<ellipse cx="192" cy="222" rx="1.5" ry="5" fill="#004cff" fill-opacity="0.8"/>
<ellipse cx="132" cy="182" rx="2.2" ry="2.5" fill="#e5ff19" fill-opacity="0.95"/>
<ellipse cx="151" cy="182" rx="1.5" ry="4" fill="#b2ff4c" fill-opacity="0.95"/>
<ellipse cx="172" cy="182.5" rx="2" ry="3" fill="#b2ff4c" fill-opacity="0.95"/>
<ellipse cx="174" cy="183" rx="1.2" ry="2.5" fill="#d1ff2d" fill-opacity="0.95"/>
<ellipse cx="184" cy="183.5" rx="1.5" ry="2" fill="#e5ff19" fill-opacity="0.95"/>
<ellipse cx="84" cy="193.5" rx="1.3" ry="1.6" fill="#b2ff4c" fill-opacity="0.95"/>
<ellipse cx="116" cy="205" rx="2" ry="2.2" fill="#e5ff19" fill-opacity="0.95"/>
<ellipse cx="114" cy="216.5" rx="2" ry="2.5" fill="#f9ff05" fill-opacity="0.95"/>
<ellipse cx="128.5" cy="189" rx="1.5" ry="2" fill="#93ff6b" fill-opacity="0.95"/>
<ellipse cx="138.5" cy="202" rx="1.6" ry="3.5" fill="#e5ff19" fill-opacity="0.95"/>
<ellipse cx="142.5" cy="193.5" rx="1.5" ry="2.5" fill="#d1ff2d" fill-opacity="0.95"/>
<ellipse cx="151.5" cy="194.5" rx="1.3" ry="3.5" fill="#b2ff4c" fill-opacity="0.95"/>
<ellipse cx="163" cy="195.5" rx="1.8" ry="4.5" fill="#e5ff19" fill-opacity="0.95"/>
<ellipse cx="171" cy="195" rx="1.5" ry="5" fill="#d1ff2d" fill-opacity="0.95"/>
<ellipse cx="183.5" cy="189" rx="1.5" ry="2.5" fill="#ff9e00" fill-opacity="0.95"/>
<ellipse cx="194" cy="196.5" rx="3.2" ry="6.5" fill="#ff9e00" fill-opacity="0.95"/>
<ellipse cx="194" cy="196" rx="1.6" ry="3.2" fill="#f90000" fill-opacity="0.95"/>
<ellipse cx="134" cy="215" rx="1.5" ry="2" fill="#b2ff4c" fill-opacity="0.95"/>
<ellipse cx="165" cy="212.5" rx="1.5" ry="2.5" fill="#b2ff4c" fill-opacity="0.95"/>
<ellipse cx="177" cy="215.5" rx="1.3" ry="1.5" fill="#93ff6b" fill-opacity="0.95"/>
<ellipse cx="153.6" cy="232.7" rx="1.6" ry="1.7999999999999998" fill="#e50000" fill-opacity="0.95"/>
</g></g>
<g clip-path="url(#cBR)"><g filter="url(#b1s)">
<rect x="232.2" y="122.3" width="130.0" height="114.89999999999999" fill="url(#gBR)" fill-opacity="1.0"/>
<ellipse cx="288" cy="176" rx="3.0" ry="11.0" fill="#004cff" fill-opacity="0.7"/>
<ellipse cx="294.5" cy="178" rx="3.5" ry="9.0" fill="#0056ff" fill-opacity="0.7"/>
<ellipse cx="313" cy="178" rx="3.0" ry="10.0" fill="#0056ff" fill-opacity="0.7"/>
<ellipse cx="332.5" cy="178" rx="3.5" ry="9.0" fill="#0056ff" fill-opacity="0.7"/>
<ellipse cx="335.5" cy="180" rx="2.5" ry="8.0" fill="#0056ff" fill-opacity="0.7"/>
<ellipse cx="345.5" cy="179" rx="4.5" ry="9.0" fill="#0089ff" fill-opacity="0.7"/>
<ellipse cx="352" cy="173" rx="3.0" ry="10.0" fill="#004cff" fill-opacity="0.7"/>
<ellipse cx="356" cy="182" rx="3.0" ry="7.0" fill="#004cff" fill-opacity="0.7"/>
<ellipse cx="277" cy="205.5" rx="3.0" ry="6.0" fill="#006bff" fill-opacity="0.7"/>
<ellipse cx="289" cy="190" rx="4.0" ry="8.0" fill="#004cff" fill-opacity="0.7"/>
<ellipse cx="294" cy="188" rx="3.0" ry="6.0" fill="#006bff" fill-opacity="0.7"/>
<ellipse cx="299" cy="201" rx="4.0" ry="11.0" fill="#009eff" fill-opacity="0.7"/>
<ellipse cx="304" cy="190" rx="3.0" ry="8.0" fill="#0075ff" fill-opacity="0.7"/>
<ellipse cx="309.5" cy="194" rx="2.6" ry="8.0" fill="#0075ff" fill-opacity="0.7"/>
<ellipse cx="312.5" cy="195" rx="2.6" ry="13.0" fill="#0089ff" fill-opacity="0.7"/>
<ellipse cx="324.5" cy="199" rx="3.5" ry="14.0" fill="#009eff" fill-opacity="0.7"/>
<ellipse cx="332.5" cy="195" rx="3.5" ry="13.0" fill="#0089ff" fill-opacity="0.7"/>
<ellipse cx="335.5" cy="191" rx="2.6" ry="9.0" fill="#0075ff" fill-opacity="0.7"/>
<ellipse cx="344.5" cy="192" rx="3.5" ry="11.0" fill="#009eff" fill-opacity="0.7"/>
<ellipse cx="354" cy="194.5" rx="4.0" ry="8.0" fill="#009eff" fill-opacity="0.7"/>
<ellipse cx="349" cy="200" rx="3.0" ry="13.0" fill="#004cff" fill-opacity="0.7"/>
<ellipse cx="274" cy="214" rx="4.5" ry="9.0" fill="#004cff" fill-opacity="0.7"/>
<ellipse cx="299" cy="210.5" rx="4.0" ry="6.0" fill="#00b2ff" fill-opacity="0.7"/>
<ellipse cx="318" cy="211" rx="3.0" ry="6.0" fill="#004cff" fill-opacity="0.7"/>
<ellipse cx="333" cy="211" rx="3.5" ry="6.0" fill="#004cff" fill-opacity="0.7"/>
<ellipse cx="314.5" cy="217" rx="2.6" ry="6.0" fill="#004cff" fill-opacity="0.7"/>
<ellipse cx="335.5" cy="211" rx="2.6" ry="6.0" fill="#004cff" fill-opacity="0.7"/>
<ellipse cx="350.5" cy="216" rx="3.0" ry="7.0" fill="#004cff" fill-opacity="0.7"/>
<ellipse cx="274" cy="178" rx="2" ry="7" fill="#004cff" fill-opacity="0.95"/>
<ellipse cx="284.5" cy="177" rx="1.8" ry="8" fill="#0060ff" fill-opacity="0.95"/>
<ellipse cx="266.5" cy="183" rx="1.5" ry="3" fill="#002dff" fill-opacity="0.95"/>
<ellipse cx="288" cy="176" rx="2" ry="8" fill="#007fff" fill-opacity="0.95"/>
<ellipse cx="294.5" cy="178" rx="2.5" ry="6" fill="#00d1ff" fill-opacity="0.95"/>
<ellipse cx="306.5" cy="175" rx="2.5" ry="5" fill="#004cff" fill-opacity="0.95"/>
<ellipse cx="313" cy="178" rx="2" ry="7" fill="#00d1ff" fill-opacity="0.95"/>
<ellipse cx="320" cy="176" rx="2" ry="8" fill="#004cff" fill-opacity="0.95"/>
<ellipse cx="325" cy="179" rx="2" ry="6" fill="#004cff" fill-opacity="0.95"/>
<ellipse cx="332.5" cy="178" rx="2.5" ry="6" fill="#00d1ff" fill-opacity="0.95"/>
<ellipse cx="335.5" cy="180" rx="1.5" ry="5" fill="#00d1ff" fill-opacity="0.95"/>
<ellipse cx="345.5" cy="179" rx="3.5" ry="6" fill="#05fff9" fill-opacity="0.95"/>
<ellipse cx="352" cy="173" rx="2" ry="7" fill="#0075ff" fill-opacity="0.95"/>
<ellipse cx="356" cy="182" rx="2" ry="4" fill="#00b2ff" fill-opacity="0.95"/>
<ellipse cx="245.5" cy="192" rx="2.5" ry="8" fill="#004cff" fill-opacity="0.95"/>
<ellipse cx="258.5" cy="197" rx="2.5" ry="12" fill="#0019ff" fill-opacity="0.95"/>
<ellipse cx="267" cy="197" rx="2" ry="12" fill="#002dff" fill-opacity="0.95"/>
<ellipse cx="276.5" cy="197" rx="2.5" ry="12" fill="#0060ff" fill-opacity="0.95"/>
<ellipse cx="277" cy="205.5" rx="2" ry="3" fill="#00e5ff" fill-opacity="0.95"/>
<ellipse cx="284.5" cy="190" rx="1.6" ry="5" fill="#0060ff" fill-opacity="0.95"/>
<ellipse cx="289" cy="190" rx="3" ry="5" fill="#00b2ff" fill-opacity="0.95"/>
<ellipse cx="294" cy="188" rx="2" ry="3" fill="#00e5ff" fill-opacity="0.95"/>
<ellipse cx="299" cy="201" rx="3" ry="8" fill="#19ffe5" fill-opacity="0.95"/>
<ellipse cx="304" cy="190" rx="2" ry="5" fill="#00efff" fill-opacity="0.95"/>
<ellipse cx="309.5" cy="194" rx="1.6" ry="5" fill="#00efff" fill-opacity="0.95"/>
<ellipse cx="312.5" cy="195" rx="1.6" ry="10" fill="#05fff9" fill-opacity="0.95"/>
<ellipse cx="324.5" cy="199" rx="2.5" ry="11" fill="#19ffe5" fill-opacity="0.95"/>
<ellipse cx="332.5" cy="195" rx="2.5" ry="10" fill="#05fff9" fill-opacity="0.95"/>
<ellipse cx="335.5" cy="191" rx="1.6" ry="6" fill="#00efff" fill-opacity="0.95"/>
<ellipse cx="344.5" cy="192" rx="2.5" ry="8" fill="#19ffe5" fill-opacity="0.95"/>
<ellipse cx="354" cy="194.5" rx="3" ry="5" fill="#19ffe5" fill-opacity="0.95"/>
<ellipse cx="349" cy="200" rx="2" ry="10" fill="#00b2ff" fill-opacity="0.95"/>
<ellipse cx="266" cy="211" rx="3" ry="3" fill="#004cff" fill-opacity="0.95"/>
<ellipse cx="274" cy="214" rx="3.5" ry="6" fill="#009eff" fill-opacity="0.95"/>
<ellipse cx="299" cy="210.5" rx="3" ry="3" fill="#4cffb2" fill-opacity="0.95"/>
<ellipse cx="299" cy="220" rx="2" ry="4" fill="#004cff" fill-opacity="0.95"/>
<ellipse cx="318" cy="211" rx="2" ry="3" fill="#00b2ff" fill-opacity="0.95"/>
<ellipse cx="333" cy="211" rx="2.5" ry="3" fill="#00c6ff" fill-opacity="0.95"/>
<ellipse cx="314.5" cy="217" rx="1.6" ry="3" fill="#00b2ff" fill-opacity="0.95"/>
<ellipse cx="320.5" cy="223" rx="1.5" ry="5" fill="#0038ff" fill-opacity="0.95"/>
<ellipse cx="335.5" cy="211" rx="1.6" ry="3" fill="#0089ff" fill-opacity="0.95"/>
<ellipse cx="342.5" cy="211.5" rx="2.5" ry="3.5" fill="#0060ff" fill-opacity="0.95"/>
<ellipse cx="350.5" cy="216" rx="2" ry="4" fill="#00b2ff" fill-opacity="0.95"/>
<ellipse cx="250.2" cy="232.7" rx="2.6" ry="2.6" fill="#00b2ff" fill-opacity="0.95"/>
<ellipse cx="242.5" cy="232.7" rx="1.9" ry="2.6" fill="#004cff" fill-opacity="0.95"/>
<ellipse cx="263.5" cy="232.7" rx="2.9" ry="2.6" fill="#00b2ff" fill-opacity="0.95"/>
<ellipse cx="283" cy="232.7" rx="2.4" ry="2.1" fill="#0060ff" fill-opacity="0.95"/>
<ellipse cx="294" cy="232.7" rx="2.4" ry="2.1" fill="#004cff" fill-opacity="0.95"/>
<ellipse cx="313.5" cy="232.7" rx="2.0" ry="2.6" fill="#0089ff" fill-opacity="0.95"/>
<ellipse cx="324" cy="232.7" rx="2.0" ry="2.6" fill="#0060ff" fill-opacity="0.95"/>
<ellipse cx="247" cy="222" rx="1.5" ry="5" fill="#002dff" fill-opacity="0.8"/>
<ellipse cx="258" cy="223" rx="1.5" ry="5" fill="#002dff" fill-opacity="0.8"/>
<ellipse cx="272" cy="224" rx="1.5" ry="5" fill="#0038ff" fill-opacity="0.8"/>
<ellipse cx="288" cy="222" rx="1.5" ry="5" fill="#002dff" fill-opacity="0.8"/>
<ellipse cx="300" cy="224" rx="1.5" ry="5" fill="#004cff" fill-opacity="0.8"/>
<ellipse cx="311" cy="222" rx="1.5" ry="5" fill="#002dff" fill-opacity="0.8"/>
<ellipse cx="321" cy="224" rx="1.5" ry="5" fill="#004cff" fill-opacity="0.8"/>
<ellipse cx="337" cy="223" rx="1.5" ry="5" fill="#002dff" fill-opacity="0.8"/>
<ellipse cx="349" cy="222" rx="1.5" ry="5" fill="#002dff" fill-opacity="0.8"/>
<ellipse cx="294.5" cy="181.5" rx="1.5" ry="2.5" fill="#19ffe5" fill-opacity="0.95"/>
<ellipse cx="345" cy="182.5" rx="1.6" ry="2.5" fill="#b2ff4c" fill-opacity="0.95"/>
<ellipse cx="299" cy="203" rx="1.8" ry="5" fill="#b2ff4c" fill-opacity="0.95"/>
<ellipse cx="312" cy="193.5" rx="1" ry="2.5" fill="#93ff6b" fill-opacity="0.95"/>
<ellipse cx="324.5" cy="198.5" rx="1.5" ry="3.5" fill="#b2ff4c" fill-opacity="0.95"/>
<ellipse cx="332.5" cy="188" rx="1.5" ry="3" fill="#93ff6b" fill-opacity="0.95"/>
<ellipse cx="344.5" cy="188.5" rx="1.5" ry="2.5" fill="#e5ff19" fill-opacity="0.95"/>
<ellipse cx="354" cy="194" rx="2" ry="2" fill="#93ff6b" fill-opacity="0.95"/>
<ellipse cx="274.5" cy="216" rx="2" ry="2" fill="#00efff" fill-opacity="0.95"/>
<ellipse cx="299.5" cy="209.5" rx="1.3" ry="1.5" fill="#b2ff4c" fill-opacity="0.95"/>
</g></g>
<line x1="108.70" y1="1.0" x2="108.70" y2="107.2" stroke="#000" stroke-opacity="0.06" stroke-width="0.5"/>
<line x1="143.70" y1="1.0" x2="143.70" y2="107.2" stroke="#000" stroke-opacity="0.06" stroke-width="0.5"/>
<line x1="178.70" y1="1.0" x2="178.70" y2="107.2" stroke="#000" stroke-opacity="0.06" stroke-width="0.5"/>
<line x1="73.4" y1="80.20" x2="214.0" y2="80.20" stroke="#000" stroke-opacity="0.06" stroke-width="0.5"/>
<line x1="73.4" y1="57.60" x2="214.0" y2="57.60" stroke="#000" stroke-opacity="0.06" stroke-width="0.5"/>
<line x1="73.4" y1="35.00" x2="214.0" y2="35.00" stroke="#000" stroke-opacity="0.06" stroke-width="0.5"/>
<line x1="73.4" y1="12.40" x2="214.0" y2="12.40" stroke="#000" stroke-opacity="0.06" stroke-width="0.5"/>
<rect x="73.4" y="1.0" width="140.6" height="106.2" fill="none" stroke="#000" stroke-opacity="0.35" stroke-width="0.6"/>
<line x1="73.70" y1="107.2" x2="73.70" y2="105.9" stroke="#262626" stroke-width="0.5"/>
<text x="73.70" y="113.80" font-size="6.0" text-anchor="middle" dominant-baseline="central" >-4</text>
<line x1="108.70" y1="107.2" x2="108.70" y2="105.9" stroke="#262626" stroke-width="0.5"/>
<text x="108.70" y="113.80" font-size="6.0" text-anchor="middle" dominant-baseline="central" >-2</text>
<line x1="143.70" y1="107.2" x2="143.70" y2="105.9" stroke="#262626" stroke-width="0.5"/>
<text x="143.70" y="113.80" font-size="6.0" text-anchor="middle" dominant-baseline="central" >0</text>
<line x1="178.70" y1="107.2" x2="178.70" y2="105.9" stroke="#262626" stroke-width="0.5"/>
<text x="178.70" y="113.80" font-size="6.0" text-anchor="middle" dominant-baseline="central" >2</text>
<line x1="213.70" y1="107.2" x2="213.70" y2="105.9" stroke="#262626" stroke-width="0.5"/>
<text x="213.70" y="113.80" font-size="6.0" text-anchor="middle" dominant-baseline="central" >4</text>
<line x1="73.4" y1="102.80" x2="74.7" y2="102.80" stroke="#262626" stroke-width="0.5"/>
<text x="71.20" y="102.80" font-size="6.0" text-anchor="end" dominant-baseline="central" >0</text>
<line x1="73.4" y1="80.20" x2="74.7" y2="80.20" stroke="#262626" stroke-width="0.5"/>
<text x="71.20" y="80.20" font-size="6.0" text-anchor="end" dominant-baseline="central" >1</text>
<line x1="73.4" y1="57.60" x2="74.7" y2="57.60" stroke="#262626" stroke-width="0.5"/>
<text x="71.20" y="57.60" font-size="6.0" text-anchor="end" dominant-baseline="central" >2</text>
<line x1="73.4" y1="35.00" x2="74.7" y2="35.00" stroke="#262626" stroke-width="0.5"/>
<text x="71.20" y="35.00" font-size="6.0" text-anchor="end" dominant-baseline="central" >3</text>
<line x1="73.4" y1="12.40" x2="74.7" y2="12.40" stroke="#262626" stroke-width="0.5"/>
<text x="71.20" y="12.40" font-size="6.0" text-anchor="end" dominant-baseline="central" >4</text>
<text x="143.70" y="122.30" font-size="6.6" text-anchor="middle" dominant-baseline="central" >z (mm)</text>
<text x="62.40" y="54.00" font-size="6.6" text-anchor="middle" dominant-baseline="central" transform="rotate(-90 62.40 54.00)">y (mm)</text>
<line x1="269.15" y1="1.0" x2="269.15" y2="107.2" stroke="#000" stroke-opacity="0.06" stroke-width="0.5"/>
<line x1="304.00" y1="1.0" x2="304.00" y2="107.2" stroke="#000" stroke-opacity="0.06" stroke-width="0.5"/>
<line x1="338.85" y1="1.0" x2="338.85" y2="107.2" stroke="#000" stroke-opacity="0.06" stroke-width="0.5"/>
<line x1="234.0" y1="80.20" x2="374.0" y2="80.20" stroke="#000" stroke-opacity="0.06" stroke-width="0.5"/>
<line x1="234.0" y1="57.60" x2="374.0" y2="57.60" stroke="#000" stroke-opacity="0.06" stroke-width="0.5"/>
<line x1="234.0" y1="35.00" x2="374.0" y2="35.00" stroke="#000" stroke-opacity="0.06" stroke-width="0.5"/>
<line x1="234.0" y1="12.40" x2="374.0" y2="12.40" stroke="#000" stroke-opacity="0.06" stroke-width="0.5"/>
<rect x="234.0" y="1.0" width="140.0" height="106.2" fill="none" stroke="#000" stroke-opacity="0.35" stroke-width="0.6"/>
<line x1="234.30" y1="107.2" x2="234.30" y2="105.9" stroke="#262626" stroke-width="0.5"/>
<text x="234.30" y="113.80" font-size="6.0" text-anchor="middle" dominant-baseline="central" >-4</text>
<line x1="269.15" y1="107.2" x2="269.15" y2="105.9" stroke="#262626" stroke-width="0.5"/>
<text x="269.15" y="113.80" font-size="6.0" text-anchor="middle" dominant-baseline="central" >-2</text>
<line x1="304.00" y1="107.2" x2="304.00" y2="105.9" stroke="#262626" stroke-width="0.5"/>
<text x="304.00" y="113.80" font-size="6.0" text-anchor="middle" dominant-baseline="central" >0</text>
<line x1="338.85" y1="107.2" x2="338.85" y2="105.9" stroke="#262626" stroke-width="0.5"/>
<text x="338.85" y="113.80" font-size="6.0" text-anchor="middle" dominant-baseline="central" >2</text>
<line x1="373.70" y1="107.2" x2="373.70" y2="105.9" stroke="#262626" stroke-width="0.5"/>
<text x="373.70" y="113.80" font-size="6.0" text-anchor="middle" dominant-baseline="central" >4</text>
<line x1="234.0" y1="102.80" x2="235.3" y2="102.80" stroke="#262626" stroke-width="0.5"/>
<text x="231.80" y="102.80" font-size="6.0" text-anchor="end" dominant-baseline="central" >0</text>
<line x1="234.0" y1="80.20" x2="235.3" y2="80.20" stroke="#262626" stroke-width="0.5"/>
<text x="231.80" y="80.20" font-size="6.0" text-anchor="end" dominant-baseline="central" >1</text>
<line x1="234.0" y1="57.60" x2="235.3" y2="57.60" stroke="#262626" stroke-width="0.5"/>
<text x="231.80" y="57.60" font-size="6.0" text-anchor="end" dominant-baseline="central" >2</text>
<line x1="234.0" y1="35.00" x2="235.3" y2="35.00" stroke="#262626" stroke-width="0.5"/>
<text x="231.80" y="35.00" font-size="6.0" text-anchor="end" dominant-baseline="central" >3</text>
<line x1="234.0" y1="12.40" x2="235.3" y2="12.40" stroke="#262626" stroke-width="0.5"/>
<text x="231.80" y="12.40" font-size="6.0" text-anchor="end" dominant-baseline="central" >4</text>
<text x="304.00" y="122.30" font-size="6.6" text-anchor="middle" dominant-baseline="central" >z (mm)</text>
<text x="223.00" y="54.00" font-size="6.6" text-anchor="middle" dominant-baseline="central" transform="rotate(-90 223.00 54.00)">y (mm)</text>
<line x1="100.00" y1="126.3" x2="100.00" y2="233.2" stroke="#fff" stroke-opacity="0.2" stroke-width="0.6" stroke-dasharray="3 1"/>
<line x1="124.40" y1="126.3" x2="124.40" y2="233.2" stroke="#fff" stroke-opacity="0.2" stroke-width="0.6" stroke-dasharray="3 1"/>
<line x1="148.80" y1="126.3" x2="148.80" y2="233.2" stroke="#fff" stroke-opacity="0.2" stroke-width="0.6" stroke-dasharray="3 1"/>
<line x1="173.20" y1="126.3" x2="173.20" y2="233.2" stroke="#fff" stroke-opacity="0.2" stroke-width="0.6" stroke-dasharray="3 1"/>
<line x1="75.6" y1="216.15" x2="197.6" y2="216.15" stroke="#fff" stroke-opacity="0.2" stroke-width="0.6" stroke-dasharray="3 1"/>
<line x1="75.6" y1="199.40" x2="197.6" y2="199.40" stroke="#fff" stroke-opacity="0.2" stroke-width="0.6" stroke-dasharray="3 1"/>
<line x1="75.6" y1="182.65" x2="197.6" y2="182.65" stroke="#fff" stroke-opacity="0.2" stroke-width="0.6" stroke-dasharray="3 1"/>
<line x1="75.6" y1="165.90" x2="197.6" y2="165.90" stroke="#fff" stroke-opacity="0.2" stroke-width="0.6" stroke-dasharray="3 1"/>
<line x1="75.6" y1="149.15" x2="197.6" y2="149.15" stroke="#fff" stroke-opacity="0.2" stroke-width="0.6" stroke-dasharray="3 1"/>
<line x1="75.6" y1="132.40" x2="197.6" y2="132.40" stroke="#fff" stroke-opacity="0.2" stroke-width="0.6" stroke-dasharray="3 1"/>
<text x="75.60" y="239.50" font-size="6.0" text-anchor="middle" dominant-baseline="central" >0</text>
<text x="100.00" y="239.50" font-size="6.0" text-anchor="middle" dominant-baseline="central" >50</text>
<text x="124.40" y="239.50" font-size="6.0" text-anchor="middle" dominant-baseline="central" >100</text>
<text x="148.80" y="239.50" font-size="6.0" text-anchor="middle" dominant-baseline="central" >150</text>
<text x="173.20" y="239.50" font-size="6.0" text-anchor="middle" dominant-baseline="central" >200</text>
<text x="197.60" y="239.50" font-size="6.0" text-anchor="middle" dominant-baseline="central" >250</text>
<text x="73.00" y="232.90" font-size="6.0" text-anchor="end" dominant-baseline="central" >0</text>
<text x="73.00" y="216.15" font-size="6.0" text-anchor="end" dominant-baseline="central" >1</text>
<text x="73.00" y="199.40" font-size="6.0" text-anchor="end" dominant-baseline="central" >2</text>
<text x="73.00" y="182.65" font-size="6.0" text-anchor="end" dominant-baseline="central" >3</text>
<text x="73.00" y="165.90" font-size="6.0" text-anchor="end" dominant-baseline="central" >4</text>
<text x="73.00" y="149.15" font-size="6.0" text-anchor="end" dominant-baseline="central" >5</text>
<text x="73.00" y="132.40" font-size="6.0" text-anchor="end" dominant-baseline="central" >6</text>
<text x="136.60" y="248.00" font-size="6.6" text-anchor="middle" dominant-baseline="central" >frequency (kHz)</text>
<text x="65.20" y="180.00" font-size="6.6" text-anchor="middle" dominant-baseline="central" transform="rotate(-90 65.20 180.00)">y (mm)</text>
<rect x="206.2" y="126.3" width="6.400000000000006" height="106.89999999999999" fill="url(#jet)"/>
<text x="214.60" y="233.40" font-size="6.0" text-anchor="start" dominant-baseline="central" >0</text>
<text x="214.60" y="212.05" font-size="6.0" text-anchor="start" dominant-baseline="central" >0.5</text>
<text x="214.60" y="190.70" font-size="6.0" text-anchor="start" dominant-baseline="central" >1</text>
<text x="214.60" y="169.35" font-size="6.0" text-anchor="start" dominant-baseline="central" >1.5</text>
<text x="214.60" y="148.00" font-size="6.0" text-anchor="start" dominant-baseline="central" >2</text>
<text x="214.60" y="126.65" font-size="6.0" text-anchor="start" dominant-baseline="central" >2.5</text>
<text x="214.2" y="121.2" font-size="5" dominant-baseline="central">×10<tspan dy="-2" font-size="4">-6</tspan></text>
<line x1="260.60" y1="126.3" x2="260.60" y2="233.2" stroke="#fff" stroke-opacity="0.2" stroke-width="0.6" stroke-dasharray="3 1"/>
<line x1="285.00" y1="126.3" x2="285.00" y2="233.2" stroke="#fff" stroke-opacity="0.2" stroke-width="0.6" stroke-dasharray="3 1"/>
<line x1="309.40" y1="126.3" x2="309.40" y2="233.2" stroke="#fff" stroke-opacity="0.2" stroke-width="0.6" stroke-dasharray="3 1"/>
<line x1="333.80" y1="126.3" x2="333.80" y2="233.2" stroke="#fff" stroke-opacity="0.2" stroke-width="0.6" stroke-dasharray="3 1"/>
<line x1="236.2" y1="216.15" x2="358.2" y2="216.15" stroke="#fff" stroke-opacity="0.2" stroke-width="0.6" stroke-dasharray="3 1"/>
<line x1="236.2" y1="199.40" x2="358.2" y2="199.40" stroke="#fff" stroke-opacity="0.2" stroke-width="0.6" stroke-dasharray="3 1"/>
<line x1="236.2" y1="182.65" x2="358.2" y2="182.65" stroke="#fff" stroke-opacity="0.2" stroke-width="0.6" stroke-dasharray="3 1"/>
<line x1="236.2" y1="165.90" x2="358.2" y2="165.90" stroke="#fff" stroke-opacity="0.2" stroke-width="0.6" stroke-dasharray="3 1"/>
<line x1="236.2" y1="149.15" x2="358.2" y2="149.15" stroke="#fff" stroke-opacity="0.2" stroke-width="0.6" stroke-dasharray="3 1"/>
<line x1="236.2" y1="132.40" x2="358.2" y2="132.40" stroke="#fff" stroke-opacity="0.2" stroke-width="0.6" stroke-dasharray="3 1"/>
<text x="236.20" y="239.50" font-size="6.0" text-anchor="middle" dominant-baseline="central" >0</text>
<text x="260.60" y="239.50" font-size="6.0" text-anchor="middle" dominant-baseline="central" >50</text>
<text x="285.00" y="239.50" font-size="6.0" text-anchor="middle" dominant-baseline="central" >100</text>
<text x="309.40" y="239.50" font-size="6.0" text-anchor="middle" dominant-baseline="central" >150</text>
<text x="333.80" y="239.50" font-size="6.0" text-anchor="middle" dominant-baseline="central" >200</text>
<text x="358.20" y="239.50" font-size="6.0" text-anchor="middle" dominant-baseline="central" >250</text>
<text x="233.60" y="232.90" font-size="6.0" text-anchor="end" dominant-baseline="central" >0</text>
<text x="233.60" y="216.15" font-size="6.0" text-anchor="end" dominant-baseline="central" >1</text>
<text x="233.60" y="199.40" font-size="6.0" text-anchor="end" dominant-baseline="central" >2</text>
<text x="233.60" y="182.65" font-size="6.0" text-anchor="end" dominant-baseline="central" >3</text>
<text x="233.60" y="165.90" font-size="6.0" text-anchor="end" dominant-baseline="central" >4</text>
<text x="233.60" y="149.15" font-size="6.0" text-anchor="end" dominant-baseline="central" >5</text>
<text x="233.60" y="132.40" font-size="6.0" text-anchor="end" dominant-baseline="central" >6</text>
<text x="297.20" y="248.00" font-size="6.6" text-anchor="middle" dominant-baseline="central" >frequency (kHz)</text>
<text x="225.80" y="180.00" font-size="6.6" text-anchor="middle" dominant-baseline="central" transform="rotate(-90 225.80 180.00)">y (mm)</text>
<rect x="366.7" y="126.3" width="6.400000000000034" height="106.89999999999999" fill="url(#jet)"/>
<text x="375.10" y="233.40" font-size="6.0" text-anchor="start" dominant-baseline="central" >0</text>
<text x="375.10" y="212.05" font-size="6.0" text-anchor="start" dominant-baseline="central" >0.5</text>
<text x="375.10" y="190.70" font-size="6.0" text-anchor="start" dominant-baseline="central" >1</text>
<text x="375.10" y="169.35" font-size="6.0" text-anchor="start" dominant-baseline="central" >1.5</text>
<text x="375.10" y="148.00" font-size="6.0" text-anchor="start" dominant-baseline="central" >2</text>
<text x="375.10" y="126.65" font-size="6.0" text-anchor="start" dominant-baseline="central" >2.5</text>
<text x="374.7" y="121.2" font-size="5" dominant-baseline="central">×10<tspan dy="-2" font-size="4">-6</tspan></text>
</svg></body></html>
